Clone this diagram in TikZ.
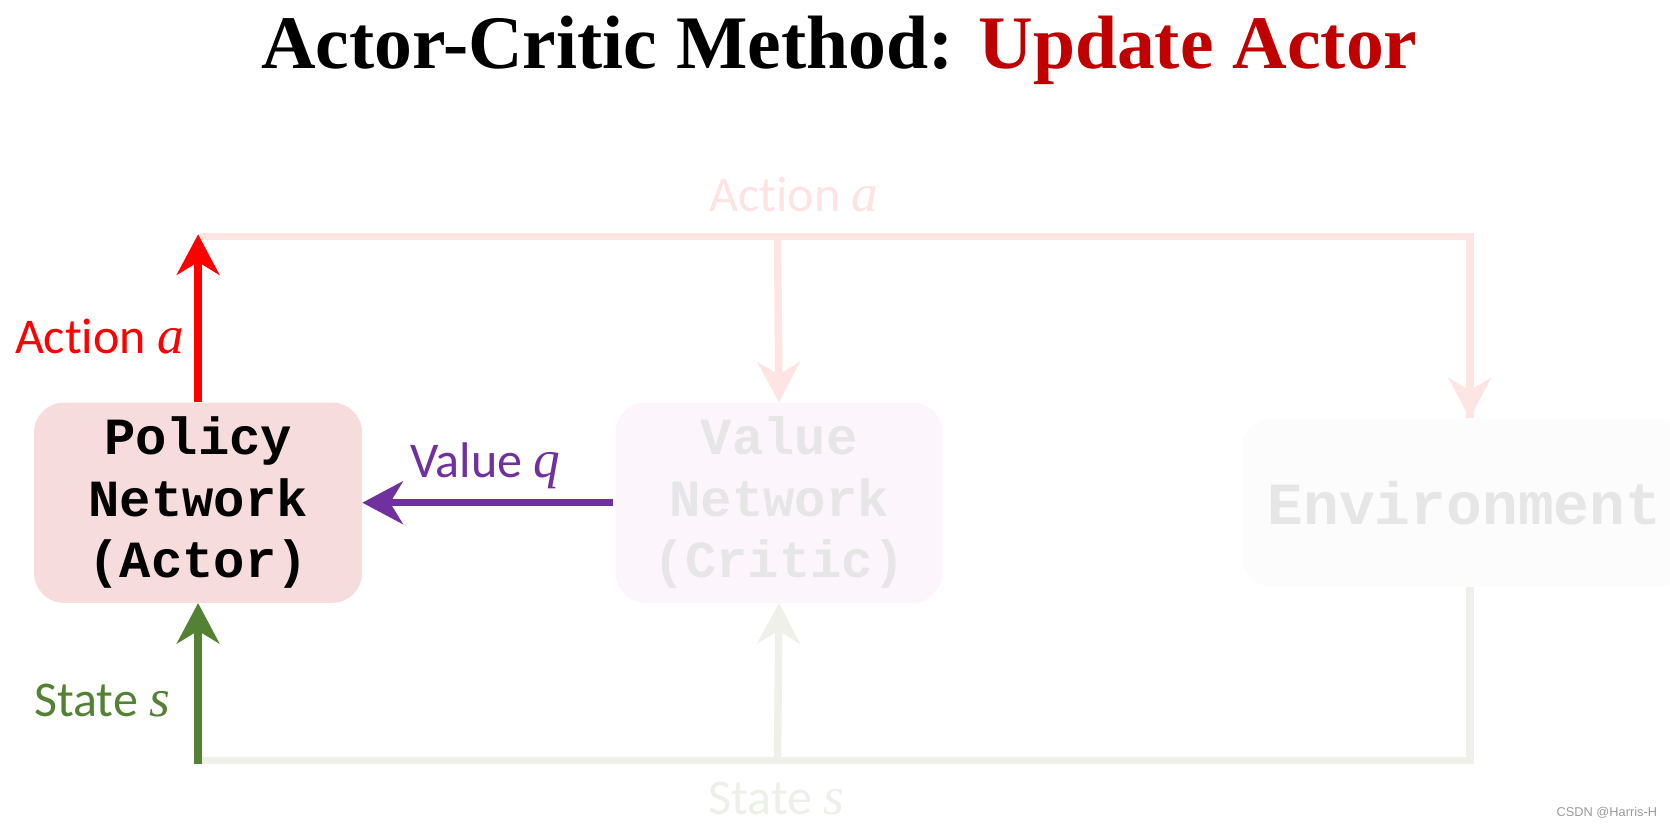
\documentclass[tikz,border=0pt]{standalone}
\usepackage{fontspec}
\newfontfamily\titlefont{Liberation Serif}
\newfontfamily\labfont{Carlito}[Ligatures=NoCommon]
\newfontfamily\varfont{Liberation Serif}
\newfontfamily\boxfont{Liberation Mono}
\newfontfamily\wmfont{Liberation Sans}
\usetikzlibrary{arrows.meta}
\definecolor{titlered}{HTML}{C00000}
\definecolor{actred}{HTML}{FF0000}
\definecolor{pinkline}{HTML}{FFE4E4}
\definecolor{pinktext}{HTML}{FFE2E2}
\definecolor{valpurple}{HTML}{7030A0}
\definecolor{stgreen}{HTML}{548235}
\definecolor{lightgreen}{HTML}{EEF0E9}
\definecolor{lightgreentext}{HTML}{EDF0E8}
\definecolor{policyfill}{HTML}{F7DCDD}
\definecolor{valuefill}{HTML}{FCF6FC}
\definecolor{envfill}{HTML}{FCFCFC}
\definecolor{fadetext}{HTML}{E6E6E6}
\definecolor{wmgray}{HTML}{9A9A9A}
\newcommand\myvar[1]{{\varfont\itshape\fontsize{50}{50}\selectfont #1}}
\begin{document}
\begin{tikzpicture}[x=1pt,y=-1pt,
  netbox/.style={rounded corners=28pt, inner sep=0pt, align=center,
    font=\boxfont\bfseries\fontsize{49}{58}\selectfont},
  conn/.style={line width=7pt},
  tipped/.style={-{Stealth[length=38pt,width=40pt,inset=12pt]}},
  lab/.style={font=\labfont\fontsize{47}{50}\selectfont, inner sep=0pt}]
\useasboundingbox (0,0) rectangle (1568,776.5);

% title
\node[anchor=base, inner sep=0pt, font=\titlefont\bfseries\fontsize{71}{75}\selectfont] (title) at (788,64)
  {Actor-Critic Method: \textcolor{titlered}{Update Actor}};

% boxes
\node[netbox, fill=policyfill, minimum width=308pt, minimum height=188pt] (policy) at (186,472)
  {Policy\\Network\\(Actor)};
\node[netbox, fill=valuefill, text=fadetext, minimum width=307pt, minimum height=188pt] (value) at (731.5,472)
  {Value\\Network\\(Critic)};
\node[netbox, fill=envfill, text=fadetext, minimum width=418pt, minimum height=158pt,
  font=\boxfont\bfseries\fontsize{56}{60}\selectfont] (env) at (1375,472) {Environment};

% routing points
\coordinate (tl) at (188,222);
\coordinate (tm) at (730,222);
\coordinate (tr) at (1380,222);
\coordinate (atop) at (186,220);
\coordinate (bl) at (188,714);
\coordinate (bm) at (730,714);
\coordinate (br) at (1380,714);
\coordinate (gbot) at (186,717.5);

% faded loop
\draw[conn, pinkline, line join=miter] (tl) -- (tr) -- (tr |- env.north);
\draw[conn, pinkline, tipped] ([yshift=-3.5pt]tr) -- (tr |- env.north);
\draw[conn, pinkline, tipped] (tm) -- (value.north);
\draw[conn, lightgreen, line join=miter] (bl) -- (br) -- (br |- env.south);
\draw[conn, lightgreen, tipped] (bm) -- (value.south);

% active arrows
\draw[conn, actred, tipped] (policy.north) -- (atop);
\draw[conn, stgreen, tipped] (gbot) -- (policy.south);
\draw[conn, valpurple, tipped] ([xshift=-2pt]value.west) -- (policy.east);

% labels
\node[lab, text=actred, anchor=base east] (lact) at (173,332) {Action \myvar{a}};
\node[lab, text=stgreen, anchor=base west] (lst) at (32,673) {State \myvar{s}};
\node[lab, text=valpurple, anchor=base west] (lval) at (385,448) {Value \myvar{q}};
\node[lab, text=pinktext, anchor=base west] (tact) at (666,199) {Action \myvar{a}};
\node[lab, text=lightgreentext, anchor=base west] (bst) at (665,765) {State \myvar{s}};

% watermark
\node[anchor=base east, inner sep=0pt, text=wmgray, font=\wmfont\fontsize{12}{14}\selectfont] (wm) at (1556,767) {CSDN @Harris-H};
\end{tikzpicture}
\end{document}
